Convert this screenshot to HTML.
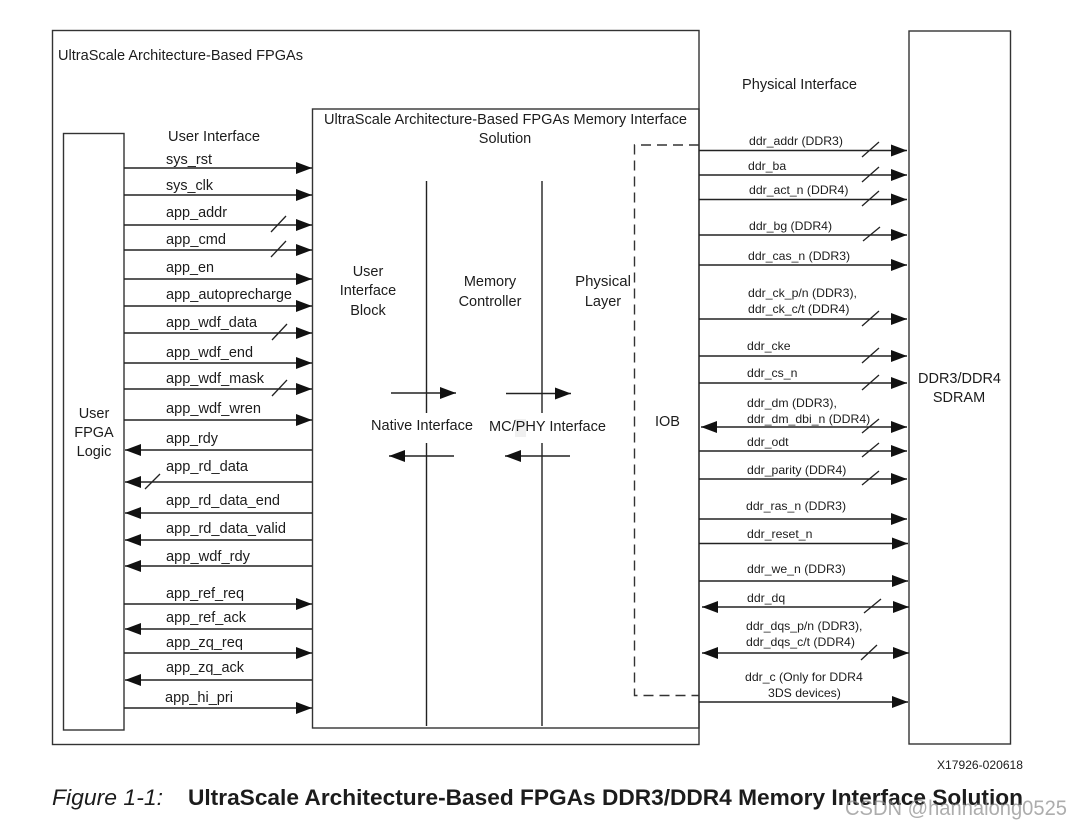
<!DOCTYPE html>
<html><head><meta charset="utf-8"><style>
html,body{margin:0;padding:0;background:#fff;width:1080px;height:829px;overflow:hidden}
svg{display:block}
text{font-family:"Liberation Sans",Arial,sans-serif;fill:#1c1c1c}
.l text{font-size:14.5px}
.r text{font-size:12.25px}
.w line{stroke:#222;stroke-width:1.4}
</style></head><body>
<svg width="1080" height="829" viewBox="0 0 1080 829" xmlns="http://www.w3.org/2000/svg">
<defs>
<marker id="a" markerUnits="userSpaceOnUse" markerWidth="16" markerHeight="12" refX="16" refY="6" orient="auto-start-reverse"><path d="M0 0L16 6L0 12Z" fill="#111"/></marker>
</defs>
<rect x="515" y="419" width="11" height="18" fill="#f0f0f0"/>
<g fill="none" stroke="#333" stroke-width="1.4">
<rect x="52.5" y="30.5" width="646.5" height="714"/>
<rect x="63.5" y="133.5" width="60.5" height="596.5"/>
<rect x="312.5" y="109" width="386.5" height="619"/>
<rect x="909" y="31" width="101.5" height="713"/>
<path d="M699 145H634.5V695.5H699" stroke-dasharray="10 6"/>
<path d="M426.5 181V413M426.5 443V726M542 181V413M542 443V726" stroke="#222"/>
</g>
<g class="w">
<line x1="124" y1="168" x2="312" y2="168" marker-end="url(#a)"/>
<line x1="124" y1="195" x2="312" y2="195" marker-end="url(#a)"/>
<line x1="124" y1="225" x2="312" y2="225" marker-end="url(#a)"/>
<line x1="124" y1="250" x2="312" y2="250" marker-end="url(#a)"/>
<line x1="124" y1="279" x2="312" y2="279" marker-end="url(#a)"/>
<line x1="124" y1="306" x2="312" y2="306" marker-end="url(#a)"/>
<line x1="124" y1="333" x2="312" y2="333" marker-end="url(#a)"/>
<line x1="124" y1="363" x2="312" y2="363" marker-end="url(#a)"/>
<line x1="124" y1="389" x2="312" y2="389" marker-end="url(#a)"/>
<line x1="124" y1="420" x2="312" y2="420" marker-end="url(#a)"/>
<line x1="312" y1="450" x2="125" y2="450" marker-end="url(#a)"/>
<line x1="312" y1="482" x2="125" y2="482" marker-end="url(#a)"/>
<line x1="312" y1="513" x2="125" y2="513" marker-end="url(#a)"/>
<line x1="312" y1="540" x2="125" y2="540" marker-end="url(#a)"/>
<line x1="312" y1="566" x2="125" y2="566" marker-end="url(#a)"/>
<line x1="124" y1="604" x2="312" y2="604" marker-end="url(#a)"/>
<line x1="312" y1="629" x2="125" y2="629" marker-end="url(#a)"/>
<line x1="124" y1="653" x2="312" y2="653" marker-end="url(#a)"/>
<line x1="312" y1="680" x2="125" y2="680" marker-end="url(#a)"/>
<line x1="124" y1="708" x2="312" y2="708" marker-end="url(#a)"/>

<line x1="391" y1="393" x2="456" y2="393" marker-end="url(#a)"/>
<line x1="506" y1="393.5" x2="571" y2="393.5" marker-end="url(#a)"/>
<line x1="454" y1="456" x2="389" y2="456" marker-end="url(#a)"/>
<line x1="570" y1="456" x2="505" y2="456" marker-end="url(#a)"/>

<line x1="699" y1="150.5" x2="907" y2="150.5" marker-end="url(#a)"/>
<line x1="699" y1="175" x2="907" y2="175" marker-end="url(#a)"/>
<line x1="699" y1="199.5" x2="907" y2="199.5" marker-end="url(#a)"/>
<line x1="699" y1="235" x2="907" y2="235" marker-end="url(#a)"/>
<line x1="699" y1="265" x2="907" y2="265" marker-end="url(#a)"/>
<line x1="699" y1="319" x2="907" y2="319" marker-end="url(#a)"/>
<line x1="699" y1="356" x2="907" y2="356" marker-end="url(#a)"/>
<line x1="699" y1="383" x2="907" y2="383" marker-end="url(#a)"/>
<line x1="701" y1="427" x2="907" y2="427" marker-start="url(#a)" marker-end="url(#a)"/>
<line x1="699" y1="451" x2="907" y2="451" marker-end="url(#a)"/>
<line x1="699" y1="479" x2="907" y2="479" marker-end="url(#a)"/>
<line x1="699" y1="519" x2="907" y2="519" marker-end="url(#a)"/>
<line x1="699" y1="543.5" x2="908" y2="543.5" marker-end="url(#a)"/>
<line x1="699" y1="581" x2="908" y2="581" marker-end="url(#a)"/>
<line x1="702" y1="607" x2="909" y2="607" marker-start="url(#a)" marker-end="url(#a)"/>
<line x1="702" y1="653" x2="909" y2="653" marker-start="url(#a)" marker-end="url(#a)"/>
<line x1="699" y1="702" x2="908" y2="702" marker-end="url(#a)"/>
</g>
<g stroke="#222" stroke-width="1.3" fill="none">
<path d="M271 232L286 216M271 257L286 241M272 340L287 324M272 396L287 380M145 489L160 474"/>
<path d="M862 157L879 142M862 182L879 167M862 206L879 191M863 241L880 227M862 326L879 311M862 363L879 348M862 390L879 375M862 433L879 419M862 457L879 443M862 485L879 471M864 613L881 599M861 660L877 645"/>
</g>

<g class="l">
<text x="58" y="60" textLength="245" lengthAdjust="spacingAndGlyphs">UltraScale Architecture-Based FPGAs</text>
<text x="742" y="89" textLength="115" lengthAdjust="spacingAndGlyphs">Physical Interface</text>
<text x="168" y="141" textLength="92" lengthAdjust="spacingAndGlyphs">User Interface</text>
<text x="324" y="124" textLength="363" lengthAdjust="spacingAndGlyphs">UltraScale Architecture-Based FPGAs Memory Interface</text>
<text x="505" y="143" text-anchor="middle">Solution</text>
<text x="368" y="276" text-anchor="middle">User</text>
<text x="368" y="295" text-anchor="middle">Interface</text>
<text x="368" y="315" text-anchor="middle">Block</text>
<text x="490" y="286" text-anchor="middle">Memory</text>
<text x="490" y="306" text-anchor="middle">Controller</text>
<text x="603" y="286" text-anchor="middle" style="font-size:15px">Physical</text>
<text x="603" y="306" text-anchor="middle">Layer</text>
<text x="371" y="430" textLength="102" lengthAdjust="spacingAndGlyphs">Native Interface</text>
<text x="489" y="431" textLength="117" lengthAdjust="spacingAndGlyphs">MC/PHY Interface</text>
<text x="655" y="426">IOB</text>
<text x="959.5" y="383" text-anchor="middle">DDR3/DDR4</text>
<text x="959" y="402" text-anchor="middle">SDRAM</text>
<text x="94" y="418" text-anchor="middle">User</text>
<text x="94" y="437" text-anchor="middle">FPGA</text>
<text x="94" y="456" text-anchor="middle">Logic</text>

<text x="166" y="164" textLength="46" lengthAdjust="spacingAndGlyphs">sys_rst</text>
<text x="166" y="190" textLength="47" lengthAdjust="spacingAndGlyphs">sys_clk</text>
<text x="166" y="217" textLength="61" lengthAdjust="spacingAndGlyphs">app_addr</text>
<text x="166" y="244" textLength="60" lengthAdjust="spacingAndGlyphs">app_cmd</text>
<text x="166" y="272" textLength="48" lengthAdjust="spacingAndGlyphs">app_en</text>
<text x="166" y="299" textLength="126" lengthAdjust="spacingAndGlyphs">app_autoprecharge</text>
<text x="166" y="327" textLength="91" lengthAdjust="spacingAndGlyphs">app_wdf_data</text>
<text x="166" y="357" textLength="87" lengthAdjust="spacingAndGlyphs">app_wdf_end</text>
<text x="166" y="383" textLength="98" lengthAdjust="spacingAndGlyphs">app_wdf_mask</text>
<text x="166" y="413" textLength="95" lengthAdjust="spacingAndGlyphs">app_wdf_wren</text>
<text x="166" y="443" textLength="52" lengthAdjust="spacingAndGlyphs">app_rdy</text>
<text x="166" y="471" textLength="82" lengthAdjust="spacingAndGlyphs">app_rd_data</text>
<text x="166" y="505" textLength="114" lengthAdjust="spacingAndGlyphs">app_rd_data_end</text>
<text x="166" y="533" textLength="120" lengthAdjust="spacingAndGlyphs">app_rd_data_valid</text>
<text x="166" y="561" textLength="84" lengthAdjust="spacingAndGlyphs">app_wdf_rdy</text>
<text x="166" y="598" textLength="78" lengthAdjust="spacingAndGlyphs">app_ref_req</text>
<text x="166" y="622" textLength="80" lengthAdjust="spacingAndGlyphs">app_ref_ack</text>
<text x="166" y="647" textLength="77" lengthAdjust="spacingAndGlyphs">app_zq_req</text>
<text x="166" y="672" textLength="78" lengthAdjust="spacingAndGlyphs">app_zq_ack</text>
<text x="165" y="702" textLength="68" lengthAdjust="spacingAndGlyphs">app_hi_pri</text>
</g>
<g class="r">
<text x="749" y="145">ddr_addr (DDR3)</text>
<text x="748" y="170">ddr_ba</text>
<text x="749" y="194">ddr_act_n (DDR4)</text>
<text x="749" y="230">ddr_bg (DDR4)</text>
<text x="748" y="260">ddr_cas_n (DDR3)</text>
<text x="748" y="297">ddr_ck_p/n (DDR3),</text>
<text x="748" y="313">ddr_ck_c/t (DDR4)</text>
<text x="747" y="350">ddr_cke</text>
<text x="747" y="377">ddr_cs_n</text>
<text x="747" y="407">ddr_dm (DDR3),</text>
<text x="747" y="423">ddr_dm_dbi_n (DDR4)</text>
<text x="747" y="446">ddr_odt</text>
<text x="747" y="474">ddr_parity (DDR4)</text>
<text x="746" y="510">ddr_ras_n (DDR3)</text>
<text x="747" y="538">ddr_reset_n</text>
<text x="747" y="573">ddr_we_n (DDR3)</text>
<text x="747" y="602">ddr_dq</text>
<text x="746" y="630">ddr_dqs_p/n (DDR3),</text>
<text x="746" y="646">ddr_dqs_c/t (DDR4)</text>
<text x="745" y="681">ddr_c (Only for DDR4</text>
<text x="768" y="697">3DS devices)</text>
<text x="937" y="769" textLength="86" lengthAdjust="spacingAndGlyphs">X17926-020618</text>
</g>
<text x="52" y="805" font-size="22" font-style="italic" textLength="111" lengthAdjust="spacingAndGlyphs">Figure 1-1:</text>
<text x="188" y="805" font-size="22" font-weight="bold" textLength="835" lengthAdjust="spacingAndGlyphs">UltraScale Architecture-Based FPGAs DDR3/DDR4 Memory Interface Solution</text>
<text x="845" y="815" font-size="21" textLength="222" lengthAdjust="spacingAndGlyphs" style="fill:#8a8a8a;fill-opacity:.7">CSDN @hannalong0525</text>
</svg>
</body></html>
